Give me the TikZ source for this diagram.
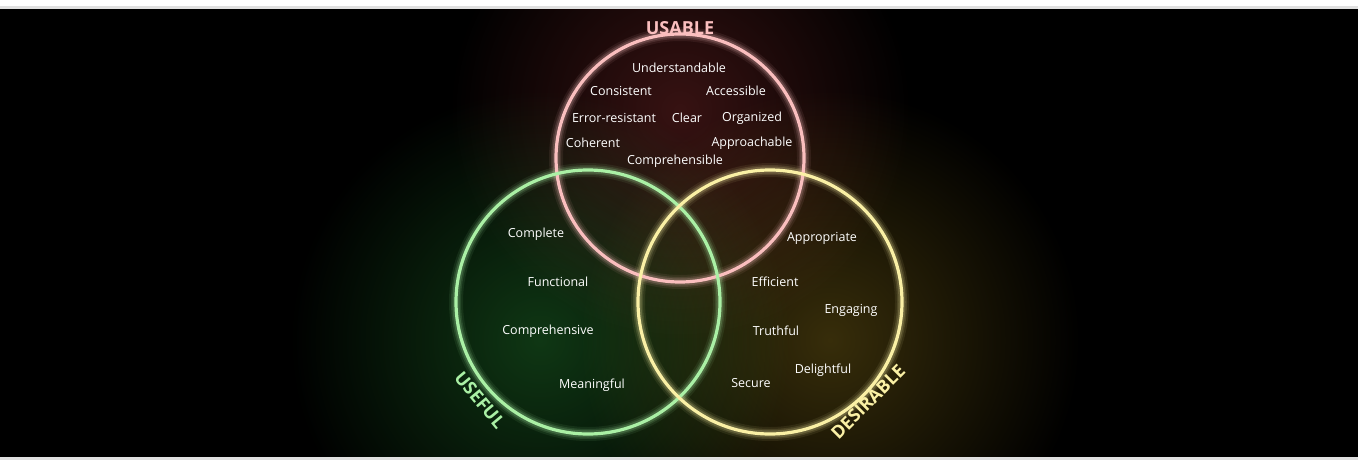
\documentclass[tikz,border=0pt]{standalone}
\usepackage{fontspec}
\setmainfont{Open Sans}
\begin{document}
\begin{tikzpicture}[x=1pt,y=-1pt,
  word/.style={text=white,font=\fontsize{12.5}{14}\selectfont},
  ttl/.style={font=\fontsize{18}{20}\selectfont\bfseries},
  ring/.style={line width=3.2pt}]
\useasboundingbox (0,0) rectangle (1358,466);
\fill[white] (0,0) rectangle (1358,466);
\fill[black] (0,9) rectangle (1358,457);
\fill[gray!60,opacity=0.4] (0,6) rectangle (1358,9);
\fill[gray!60,opacity=0.4] (0,457) rectangle (1358,460);
\begin{scope}
\clip (0,9) rectangle (1358,457);
\shade[blend mode=screen,inner color={rgb,255:red,55;green,18;blue,18},outer color=black] (680,110) circle[radius=230];
\shade[blend mode=screen,inner color={rgb,255:red,15;green,55;blue,20},outer color=black] (540,340) circle[radius=250];
\shade[blend mode=screen,inner color={rgb,255:red,55;green,45;blue,10},outer color=black] (830,340) circle[radius=250];
\end{scope}
\definecolor{cU}{RGB}{250,190,190}
\definecolor{cF}{RGB}{170,240,165}
\definecolor{cD}{RGB}{250,240,165}
\foreach \c/\x/\y/\r in {cU/680/158/124, cF/588/302/132, cD/770/302/132}{
  \foreach \w/\o in {14/0.08,10/0.12,7/0.18}
    \draw[\c,line width=\w pt,opacity=\o] (\x,\y) circle[radius=\r];
}
\draw[ring,cU] (680,158) circle[radius=124];
\draw[ring,cF] (588,302) circle[radius=132];
\draw[ring,cD] (770,302) circle[radius=132];
\node[ttl,text=cU] (usable) at (680,28) {USABLE};
\node[ttl,text=cF,rotate=-50] (useful) at (480,400) {USEFUL};
\node[ttl,text=cD,rotate=45] (desirable) at (868,402) {DESIRABLE};
\node[word] (u1) at (679,68) {Understandable};
\node[word] (u2) at (621,91) {Consistent};
\node[word] (u3) at (736,91) {Accessible};
\node[word] (u4) at (614,118) {Error-resistant};
\node[word] (u5) at (687,118) {Clear};
\node[word] (u6) at (752,118) {Organized};
\node[word] (u7) at (593,143) {Coherent};
\node[word] (u8) at (752,143) {Approachable};
\node[word] (u9) at (675,161) {Comprehensible};
\node[word] (f1) at (536,234) {Complete};
\node[word] (f2) at (558,282) {Functional};
\node[word] (f3) at (548,331) {Comprehensive};
\node[word] (f4) at (592,385) {Meaningful};
\node[word] (d1) at (822,238) {Appropriate};
\node[word] (d2) at (775,282) {Efficient};
\node[word] (d3) at (851,310) {Engaging};
\node[word] (d4) at (776,331) {Truthful};
\node[word] (d5) at (823,370) {Delightful};
\node[word] (d6) at (751,383) {Secure};
\end{tikzpicture}
\end{document}
